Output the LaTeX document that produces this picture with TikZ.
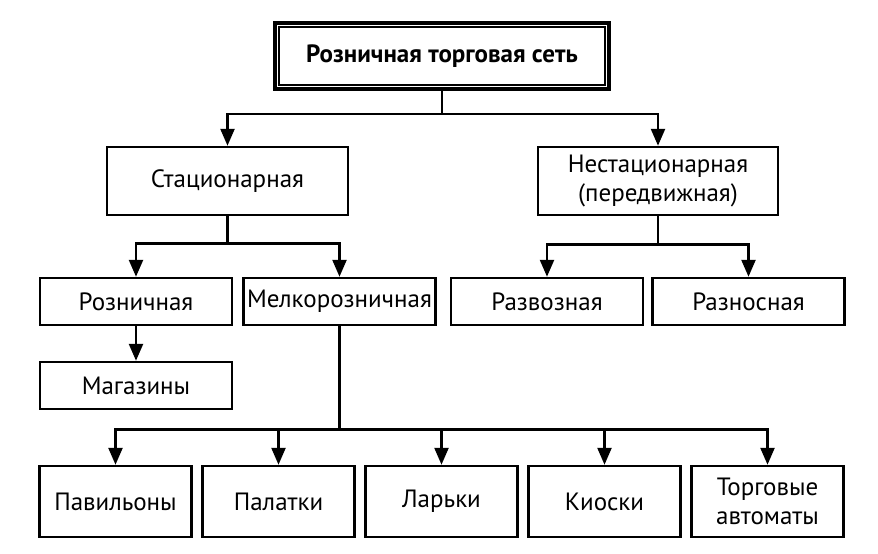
\documentclass[tikz,border=0pt]{standalone}
\usepackage{fontspec}
\setmainfont{PT Sans}
\usepackage{tikz}
\usetikzlibrary{arrows.meta,positioning}

\begin{document}
\begin{tikzpicture}[x=1pt,y=-1pt,>={Triangle[length=17pt,width=14pt]},line width=2.5pt,
  box/.style={draw,line width=2.5pt,inner sep=0pt,align=center,font=\fontsize{25}{29}\selectfont},
  small box/.style={box,minimum width=192pt,minimum height=47pt},
  leaf/.style={box,minimum width=152pt,minimum height=71pt}]
  \useasboundingbox (0,0) rectangle (878,554);
	\node[box, line width=4pt, minimum width=334pt, minimum height=66pt, font=\fontsize{25}{29}\selectfont\bfseries] (root) at (442,56) {Розничная торговая сеть};
	\draw[line width=1.5pt] ([xshift=6pt,yshift=-6pt]root.north west) rectangle ([xshift=-6pt,yshift=6pt]root.south east);
	\node[box, minimum width=241pt, minimum height=68pt] (stat) at (227.5,181) {Стационарная};
	\node[box, minimum width=240pt, minimum height=68pt] (nonstat) at (658,181) {Нестационарная\\(передвижная)};
	\node[small box] (retail) at (136,301.5) {Розничная};
	\node[small box] (smallretail) at (339.5,301.5) {Мелкорозничная};
	\node[small box] (shops) at (136,385.5) {Магазины};
	\node[small box] (deliv) at (547,301.5) {Развозная};
	\node[small box] (peddle) at (748.5,301.5) {Разносная};
	\node[leaf] (pav) at (115.5,501.5) {Павильоны};
	\node[leaf] (tent) at (278.5,501.5) {Палатки};
	\node[leaf] (stall) at (441.5,501.5) {Ларьки};
	\node[leaf] (kiosk) at (604.5,501.5) {Киоски};
	\node[leaf] (vend) at (767.5,501.5) {Торговые\\автоматы};

	% root to the two kinds
	\draw (root.south) -- ++(0,23) coordinate (j0);
	\draw[->] (j0) -| (stat.north);
	\draw[->] (j0) -| (nonstat.north);
	% stationary
	\draw (stat.south) -- ++(0,27) coordinate (j1);
	\draw[->] (j1) -| (retail.north);
	\draw[->] (j1) -| (smallretail.north);
	\draw[->] (retail) -- (shops);
	% non-stationary
	\draw (nonstat.south) -- ++(0,28) coordinate (j2);
	\draw[->] (j2) -| (deliv.north);
	\draw[->] (j2) -| (peddle.north);
	% small retail outlets
	\draw (smallretail.south) -- ++(0,103) coordinate (j3);
	\foreach \n in {pav,tent,stall,kiosk,vend}
		\draw[->] (j3) -| (\n.north);
\end{tikzpicture}
\end{document}
